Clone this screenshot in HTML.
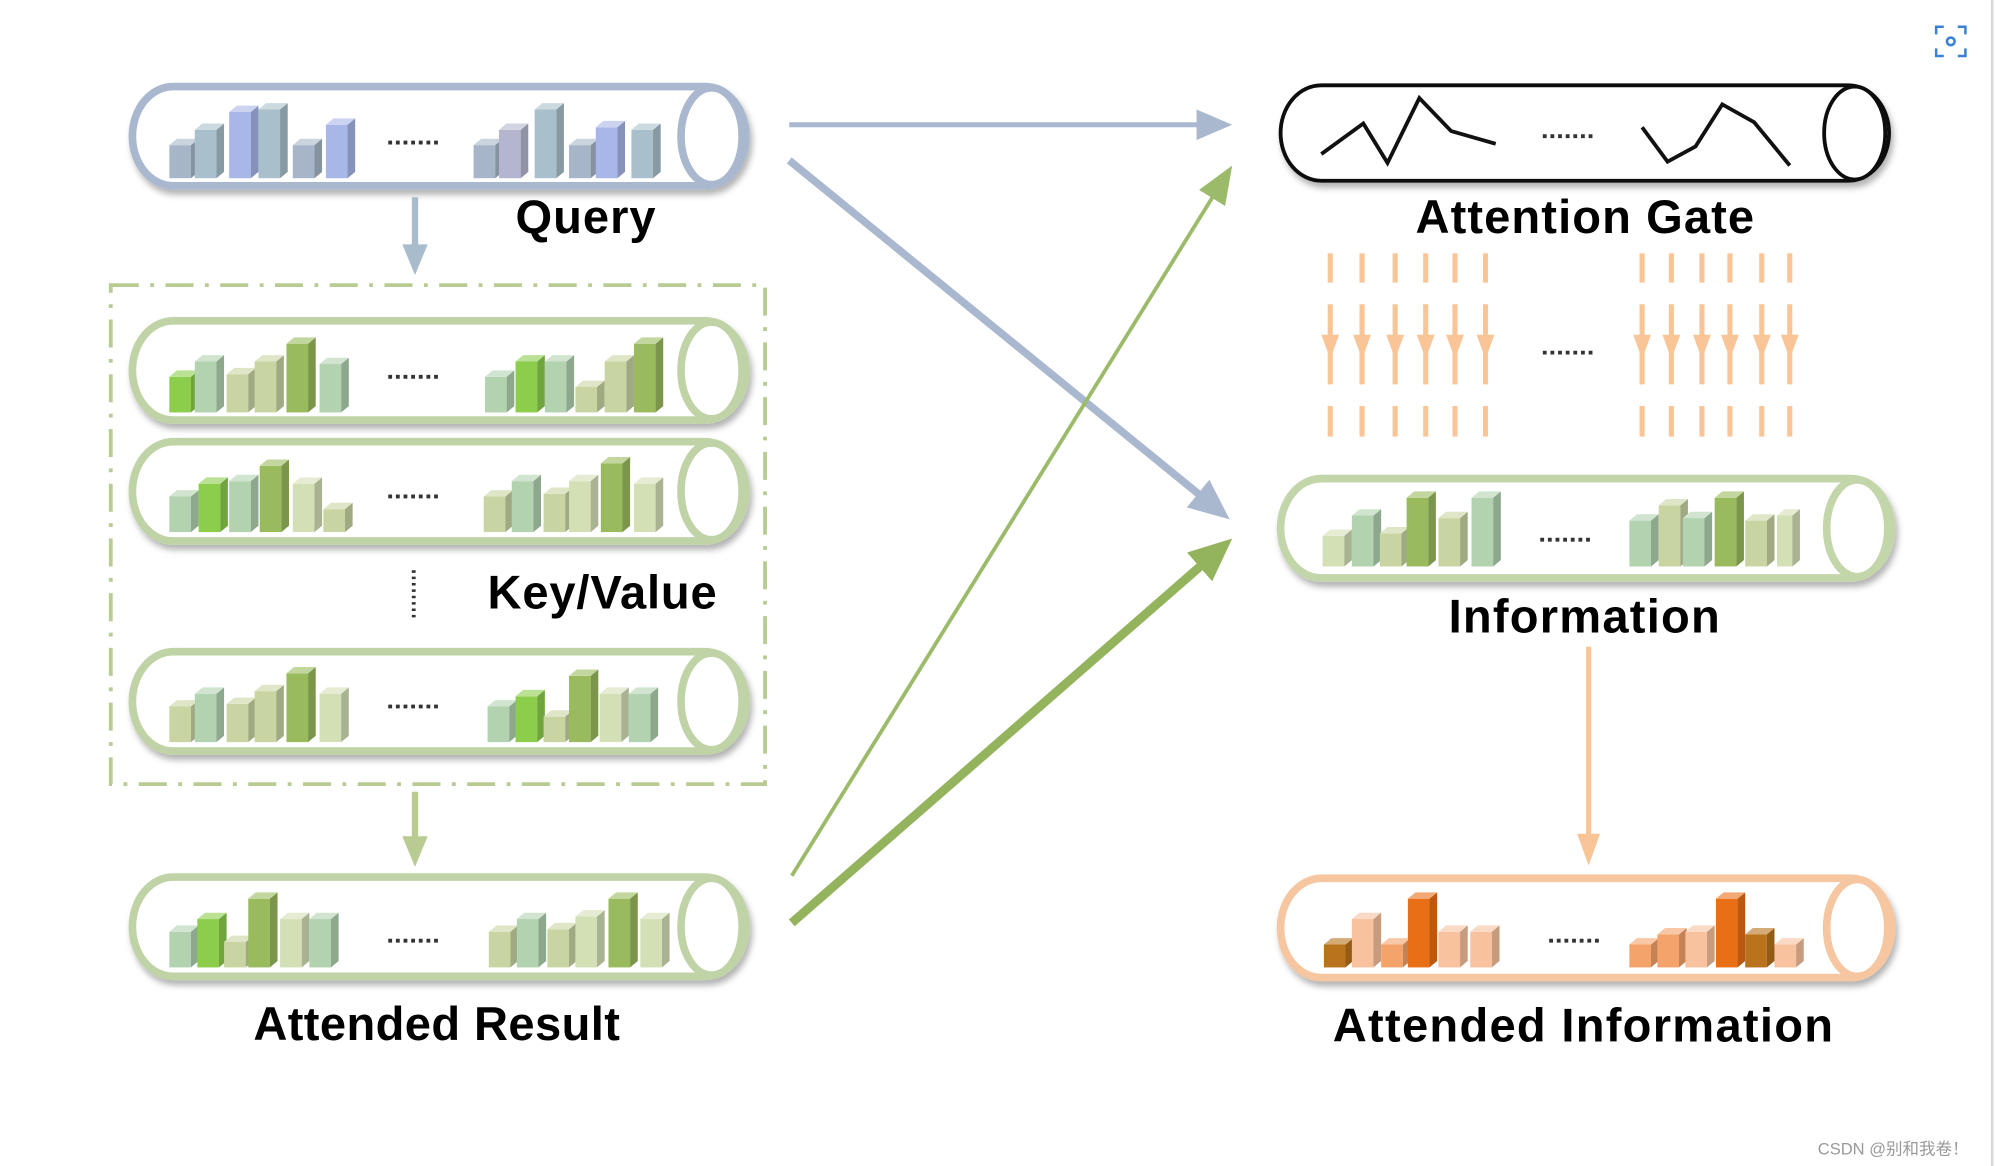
<!DOCTYPE html>
<html><head><meta charset="utf-8"><style>
html,body{margin:0;padding:0;background:#fff;}
svg{display:block;}
text{font-family:"Liberation Sans",sans-serif;font-weight:bold;}
</style></head><body>
<svg id="s" width="1996" height="1166" viewBox="0 0 1568 916" xmlns="http://www.w3.org/2000/svg">
<defs>
<filter id="sh" x="-5%" y="-20%" width="110%" height="150%"><feDropShadow dx="2" dy="4" stdDeviation="2.5" flood-color="#000" flood-opacity="0.3"/></filter>
<marker id="ab" markerWidth="8" markerHeight="8" refX="6" refY="4" orient="auto" markerUnits="userSpaceOnUse"></marker>
</defs>
<rect width="1568" height="916" fill="#fff"/>
<line x1="1565" y1="0" x2="1565" y2="916" stroke="#d8d8d8" stroke-width="2"/>
<g id="g"></g>
<!-- dashed box -->
<rect x="87" y="224" width="514" height="392" fill="none" stroke="#b7cb92" stroke-width="3" stroke-dasharray="22,9,3,9"/>
<!-- texts -->
<text x="405" y="183" font-size="37" textLength="110">Query</text>
<text x="1112" y="183" font-size="37" textLength="266">Attention Gate</text>
<text x="383" y="478" font-size="37" textLength="180">Key/Value</text>
<text x="1138" y="497" font-size="37" textLength="213">Information</text>
<text x="199" y="817" font-size="37" textLength="288">Attended Result</text>
<text x="1047" y="818" font-size="37" textLength="393">Attended Information</text>
<text x="1428" y="907" font-size="13" font-weight="normal" style="font-weight:normal" fill="#999" font-family="Liberation Sans, Noto Sans CJK SC, sans-serif">CSDN @别和我卷！</text>
<!-- icon -->
<g stroke="#3b82d6" stroke-width="2" fill="none">
<path d="M1521 27v-6h6M1538 21h6v6M1544 38v6h-6M1527 44h-6v-6"/>
<circle cx="1532.5" cy="32.5" r="3"/>
</g>
<!-- vertical dots -->
<line x1="325" y1="448" x2="325" y2="488" stroke="#333" stroke-width="3" stroke-dasharray="2,3"/>
</svg>
<script>
const g=document.getElementById('g');
let out='';
function shade(c,f){let n=parseInt(c.slice(1),16);let r=n>>16,gg=(n>>8)&255,b=n&255;
 const m=v=>Math.max(0,Math.min(255,Math.round(f>1?v+(255-v)*(f-1):v*f)));
 return 'rgb('+m(r)+','+m(gg)+','+m(b)+')';}
function bar(x,base,h,c,w){w=w||17;const d=6;
 out+=`<rect x="${x}" y="${base-h}" width="${w}" height="${h}" fill="${c}"/>`;
 out+=`<polygon points="${x+w},${base-h} ${x+w+d},${base-h-5} ${x+w+d},${base-5} ${x+w},${base}" fill="${shade(c,0.8)}"/>`;
 out+=`<polygon points="${x},${base-h} ${x+d},${base-h-5} ${x+w+d},${base-h-5} ${x+w},${base-h}" fill="${shade(c,1.4)}"/>`;}
function cyl(x0,y0,x1,y1,col,sw){const h=y1-y0;
 out+=`<g filter="url(#sh)"><rect x="${x0}" y="${y0}" width="${x1-x0}" height="${h}" rx="32" ry="${h/2}" fill="#fff" stroke="${col}" stroke-width="${sw}"/>
 <ellipse cx="${x1-27}" cy="${(y0+y1)/2}" rx="24" ry="${h/2-1}" fill="#fff" stroke="${col}" stroke-width="${sw}"/></g>`;}
function dots(x,y){out+=`<line x1="${x}" y1="${y}" x2="${x+40}" y2="${y}" stroke="#333" stroke-width="3" stroke-dasharray="3,3"/>`;}
function bars(list,base){list.forEach(b=>bar(b[0],base,b[1],b[2],b[3]));}
const B='#a6b6c8',M='#a9c0cc',L='#a8b6e8',P='#b4b6d0';
const GB='#8ccd4c',GM='#b2d2b0',GP='#c8d5a2',GO='#9aba5e',GL='#d3e0b6';
const O1='#e96f16',O2='#f8c29e',O3='#b8731c',O4='#f4a46a';
// Query
cyl(104,68,586,146,'#a9b8cf',6);
bars([[133,26,B],[153,38,M],[180,52,L],[203,54,M],[230,26,B],[256,42,L],[372,26,B],[392,38,P],[420,54,M],[447,26,B],[468,40,L],[496,38,M]],140);dots(305,112);
// KV1
cyl(104,252,586,330,'#bfd3a6',6);
bars([[133,28,GB],[153,40,GM],[178,30,GP],[200,40,GP],[225,54,GO],[251,38,GM],[381,28,GM],[405,40,GB],[428,40,GM],[452,20,GP],[475,40,GP],[498,54,GO]],324);dots(305,296);
// KV2
cyl(104,347,586,425,'#bfd3a6',6);
bars([[133,28,GM],[156,38,GB],[180,40,GM],[204,52,GO],[230,38,GL],[254,18,GP],[380,28,GP],[402,40,GM],[427,30,GP],[447,40,GL],[472,54,GO],[498,38,GL]],418);dots(305,390);
// KV3
cyl(104,512,586,590,'#bfd3a6',6);
bars([[133,28,GP],[153,38,GM],[178,30,GP],[200,40,GP],[225,54,GO],[251,38,GL],[383,28,GM],[405,36,GB],[427,20,GP],[447,52,GO],[471,38,GL],[494,38,GM]],583);dots(305,555);
// Attended result
cyl(104,689,586,767,'#bfd3a6',6);
bars([[133,28,GM],[155,38,GB],[176,20,GP],[195,54,GO],[220,38,GL],[243,38,GM],[384,28,GP],[406,38,GM],[430,30,GP],[452,40,GL],[478,54,GO],[503,38,GL]],760);dots(305,739);
// Attention gate
cyl(1006,67,1484,142,'#111',3);
out+=`<polyline points="1038,121 1071,97 1090,128 1115,77 1140,103 1175,113" fill="none" stroke="#111" stroke-width="3"/>`;
out+=`<polyline points="1290,100 1310,127 1332,115 1353,82 1378,96 1406,130" fill="none" stroke="#111" stroke-width="3"/>`;
dots(1212,107);
// orange arrows
const ox=[1045,1070,1096,1120,1143,1167,1290,1313,1337,1359,1384,1406];
ox.forEach(x=>{out+=`<g stroke="#f9c597" stroke-width="4" fill="none">
<line x1="${x}" y1="199" x2="${x}" y2="222"/><line x1="${x}" y1="239" x2="${x}" y2="302"/><line x1="${x}" y1="319" x2="${x}" y2="343"/></g>
<polygon points="${x-7},263 ${x+7},263 ${x},282" fill="#f9c597"/>`;});
dots(1212,277);
// Information
cyl(1006,376,1486,454,'#c3d6aa',6);
bars([[1039,24,GL],[1062,40,GM],[1084,26,GP],[1105,54,GO],[1130,38,GP],[1156,54,GM],[1280,36,GM],[1303,48,GP],[1322,38,GM],[1347,54,GO],[1371,36,GP],[1396,40,GL,12]],445);dots(1210,424);
// Orange arrow down
out+=`<line x1="1248" y1="508" x2="1248" y2="660" stroke="#f9c597" stroke-width="4"/><polygon points="1239,655 1257,655 1248,680" fill="#f9c597"/>`;
// Attended information
cyl(1006,690,1486,768,'#f6c6a1',6);
bars([[1040,18,O3],[1062,38,O2],[1085,18,O4],[1106,54,O1],[1130,28,O2],[1155,28,O2],[1280,18,O4],[1302,26,O4],[1324,28,O2],[1348,54,O1],[1371,26,O3],[1394,18,O2]],760);dots(1217,739);
// Down arrows left
out+=`<line x1="326" y1="155" x2="326" y2="195" stroke="#a9bccb" stroke-width="5"/><polygon points="316,192 336,192 326,216" fill="#a9bccb"/>`;
out+=`<line x1="326" y1="622" x2="326" y2="660" stroke="#b7cb92" stroke-width="5"/><polygon points="316,657 336,657 326,681" fill="#b7cb92"/>`;
// diagonal arrows
function arr(x1,y1,x2,y2,c,w,hl,hw){const a=Math.atan2(y2-y1,x2-x1),ca=Math.cos(a),sa=Math.sin(a);
 const bx=x2-hl*ca,by=y2-hl*sa;
 out+=`<line x1="${x1}" y1="${y1}" x2="${bx+2*ca}" y2="${by+2*sa}" stroke="${c}" stroke-width="${w}"/>`;
 out+=`<polygon points="${x2},${y2} ${bx-hw*sa},${by+hw*ca} ${bx+hw*sa},${by-hw*ca}" fill="${c}"/>`;}
arr(620,98,968,98,'#a9b8cf',4,28,12);
arr(620,126,966,408,'#a9b8cf',6,32,14);
arr(622,688,968,130,'#9bbb6a',3,30,12);
arr(622,725,968,423,'#93b35c',7,34,15);
g.innerHTML=out;
</script>
</body></html>
